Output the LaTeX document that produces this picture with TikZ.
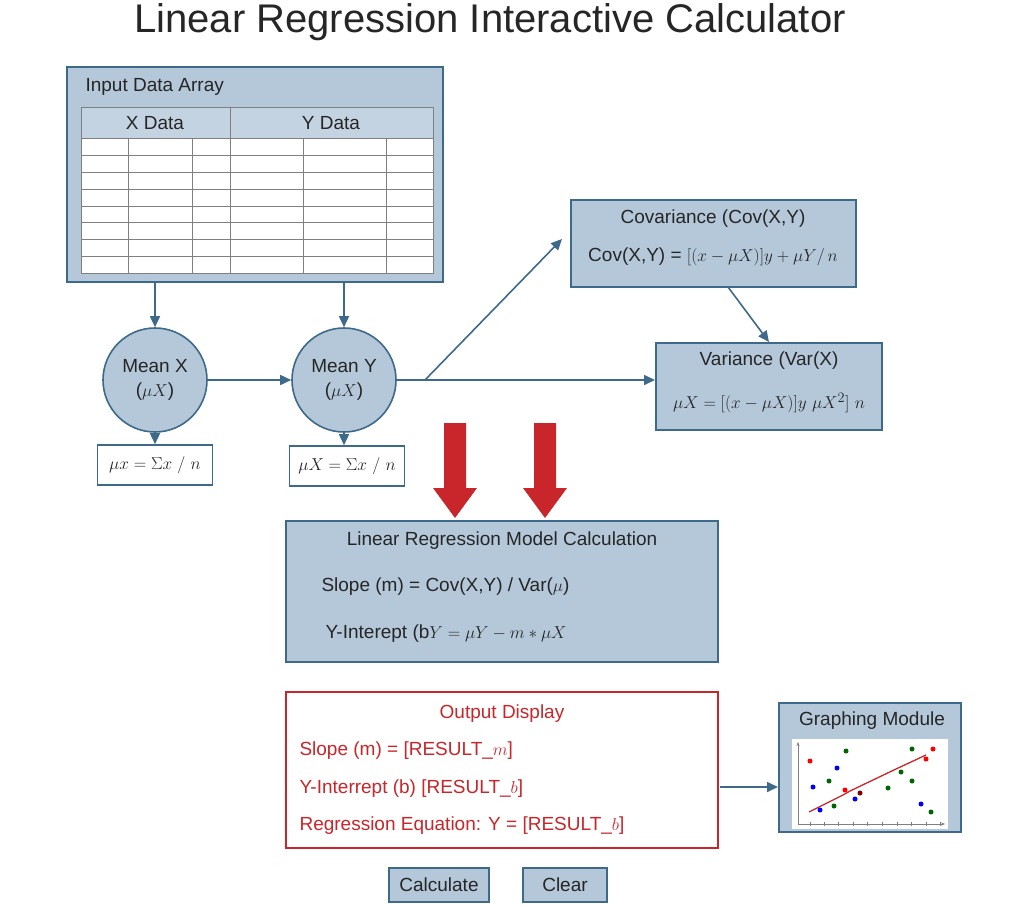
\documentclass[tikz,border=0pt]{standalone}
\usepackage{fontspec}
\setmainfont{Liberation Sans}
\usepackage{amsmath}
\usetikzlibrary{arrows.meta,positioning}
\definecolor{boxfill}{HTML}{B4C8DA}
\definecolor{boxedge}{HTML}{3E6A8A}
\definecolor{redline}{HTML}{C8262A}
\tikzset{
  panel/.style={draw=boxedge,fill=boxfill,line width=2pt,inner sep=0pt},
  smallbox/.style={draw=boxedge,fill=white,line width=1.6pt,minimum width=115pt,minimum height=40pt,font=\fontsize{19}{22}\selectfont},
  meancircle/.style={circle,draw=boxedge,fill=boxfill,line width=1.6pt,minimum size=104pt,align=center,font=\fontsize{19}{24}\selectfont},
  flow/.style={draw=boxedge,line width=1.6pt,-{Triangle[length=11pt,width=10pt]}},
  button/.style={draw=boxedge,fill=boxfill,line width=1.4pt,minimum height=34pt,font=\fontsize{19}{22}\selectfont}
}
\begin{document}
\begin{tikzpicture}[x=1pt,y=-1pt,text=black!85]
\useasboundingbox (0,0) rectangle (1024,904);
\node (title) at (490,22) {\fontsize{40}{44}\selectfont Linear Regression Interactive Calculator};
% Input data array
\node[panel,minimum width=376pt,minimum height=215pt] (input) at (255,174.5) {};
\node[anchor=west] at (82,87) {\fontsize{19}{22}\selectfont Input Data Array};
\draw[fill=boxfill!80,draw=gray] (81,107) rectangle (433,138);
\draw[fill=white,draw=gray] (81,138) rectangle (433,273);
\foreach \y in {155,172,189,206,222,239,256} {
  \draw[gray] (81,\y) -- (433,\y);
}
\foreach \x in {128,192,303,386} {
  \draw[gray] (\x,138) -- (\x,273);
}
\draw[gray] (230,107) -- (230,273);
\node at (155,123) {\fontsize{19}{22}\selectfont X Data};
\node at (331,123) {\fontsize{19}{22}\selectfont Y Data};
% Means
\node[meancircle] (meanx) at (155,380) {Mean X\\($\mu X$)};
\node[meancircle] (meany) at (344,380) {Mean Y\\($\mu X$)};
\node[smallbox] (fx) at (155,465) {$\mu x = \Sigma x\ /\ n$};
\node[smallbox] (fy) at (347,466) {$\mu X = \Sigma x\ /\ n$};
\coordinate (inx) at (155,282);
\coordinate (iny) at (344,282);
\draw[flow] (inx) -- (meanx);
\draw[flow] (iny) -- (meany);
\draw[flow] (meanx) -- (fx);
\draw[flow] (meany) -- (meany |- fy.north);
\draw[flow] (meanx) -- (meany);
% Covariance and variance
\node[panel,minimum width=285pt,minimum height=87pt] (cov) at (713.5,243.5) {};
\node at (713,219) {\fontsize{19}{22}\selectfont Covariance (Cov(X,Y)};
\node at (713,257) {\fontsize{19}{22}\selectfont Cov(X,Y) = $[(x-\mu X)]y+\mu Y/\,n$};
\node[panel,minimum width=226pt,minimum height=87pt] (var) at (769,386.5) {};
\node at (769,361) {\fontsize{19}{22}\selectfont Variance (Var(X)};
\node at (769,403) {\fontsize{19}{22}\selectfont $\mu X=[(x-\mu X)]y\ \mu X^2]\ n$};
\coordinate (split) at (425,380);
\coordinate (covin) at (562,239);
\coordinate (covout) at (728,287);
\draw[draw=boxedge,line width=1.6pt] (meany.east) -- (split);
\draw[flow] (split) -- (covin);
\draw[flow] (split) -- (var.west |- split);
\draw[flow] (covout) -- (var.north);
% Regression model
\node[panel,minimum width=432pt,minimum height=141pt] (model) at (502,591.5) {};
\node at (502,541) {\fontsize{19}{22}\selectfont Linear Regression Model Calculation};
\node[anchor=west] at (318,587) {\fontsize{19}{22}\selectfont Slope (m) = Cov(X,Y) / Var($\mu$)};
\node[anchor=west] at (322,634) {\fontsize{19}{22}\selectfont Y-Interept (b$Y=\mu Y-m*\mu X$};
\foreach \x in {455,545} {
  \fill[redline] (\x-11,423) -- (\x+11,423) -- (\x+11,488) -- (\x+22,488) -- (\x,518) -- (\x-22,488) -- (\x-11,488) -- cycle;
}
% Output display
\node[draw=redline,fill=white,line width=1.6pt,minimum width=432pt,minimum height=156pt] (output) at (502,770) {};
\begin{scope}[text=redline,font=\fontsize{19}{22}\selectfont]
  \node at (502,714) {Output Display};
  \node[anchor=west] at (296,751) {Slope (m) = [RESULT\_$m$]};
  \node[anchor=west] at (296,789) {Y-Interrept (b) [RESULT\_$b$]};
  \node[anchor=west] at (296,826) {Regression Equation: Y = [RESULT\_$b$]};
\end{scope}
% Graphing module
\node[panel,minimum width=182pt,minimum height=129pt] (graph) at (870,767.5) {};
\node at (872,721) {\fontsize{19}{22}\selectfont Graphing Module};
\fill[white] (792,739) rectangle (948,829);
\draw[gray,-{Stealth[length=4pt]}] (798,824) -- (945,824);
\draw[gray,-{Stealth[length=4pt]}] (798,824) -- (798,742);
\foreach \x in {810,824,838,853,867,882,897,911,926,940} {
  \draw[gray] (\x,822) -- (\x,826);
}
\draw[redline,line width=1.3pt] (809,812) -- (843,795) -- (850,791) -- (896,769) -- (926,755);
\foreach \px/\py/\c in {810/761/red,813/787/blue,820/810/blue,829/781/green!40!black,846/751/green!40!black,837/768/blue,834/806/green!40!black,845/790/red,855/799/blue,860/793/red!50!black,888/788/green!40!black,901/772/green!40!black,912/749/green!40!black,912/781/green!40!black,921/804/blue,926/759/red,933/749/red,931/812/green!40!black} {
  \fill[\c] (\px,\py) circle (2.5);
}
\coordinate (outr) at (720,787);
\draw[flow] (outr) -- (outr -| graph.west);
% Buttons
\node[button,minimum width=100pt] (calc) at (439,885) {Calculate};
\node[button,minimum width=84pt] (clear) at (565,885) {Clear};
\end{tikzpicture}
\end{document}
